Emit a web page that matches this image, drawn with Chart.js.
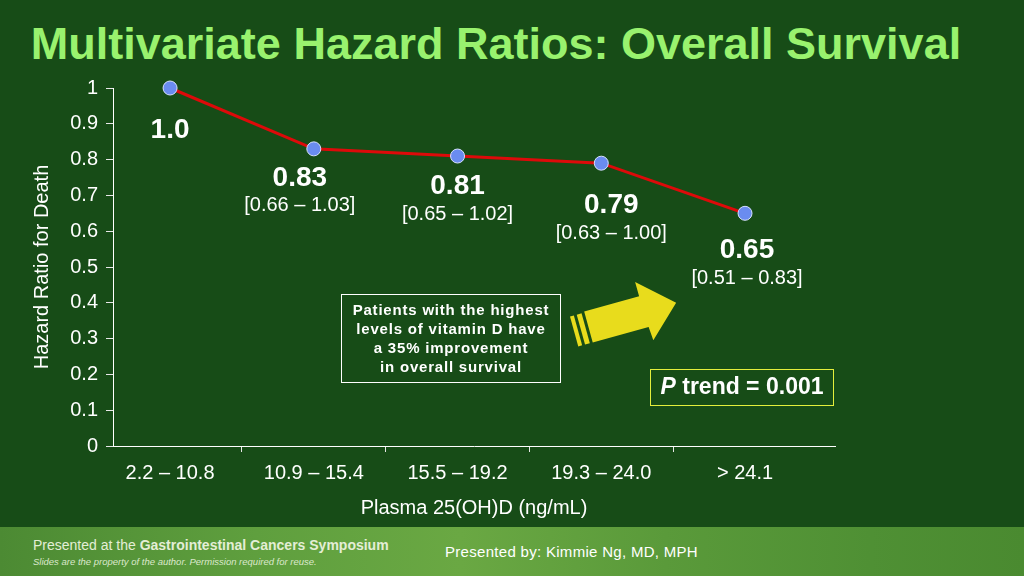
<!DOCTYPE html>
<html>
<head>
<meta charset="utf-8">
<script src="https://cdn.jsdelivr.net/npm/chart.js@4"></script>
<style>
  html, body { margin: 0; padding: 0; }
  body { width: 1024px; height: 576px; overflow: hidden; background: #174c17; position: relative; font-family: Arial, "Liberation Sans", sans-serif; }
  #title { position: absolute; left: 0; width: 992px; top: 18px; text-align: center; color: #99f26e; font-weight: bold; font-size: 45px; white-space: nowrap; }
  #wrap { position: absolute; left: 0; top: 0; width: 1024px; height: 576px; }
  #footer { position: absolute; left: 0; top: 527px; width: 1024px; height: 49px;
    background: linear-gradient(90deg, #4c8a33 0%, #5f9f3e 25%, #6aa843 45%, #5a9a3a 65%, #4f9034 85%, #4a8a30 100%); }
  #f1 { position: absolute; left: 33px; top: 10px; color: #e4eed6; font-size: 14px; }
  #f1 b { font-weight: bold; }
  #f2 { position: absolute; left: 33px; top: 29px; color: #dbe8cc; font-size: 9.5px; font-style: italic; }
  #f3 { position: absolute; left: 445px; top: 16px; color: #ffffff; font-size: 15px; letter-spacing: 0.3px; }
</style>
</head>
<body>
<div id="title">Multivariate Hazard Ratios: Overall Survival</div>
<div id="footer">
  <div id="f1">Presented at the <b>Gastrointestinal Cancers Symposium</b></div>
  <div id="f2">Slides are the property of the author. Permission required for reuse.</div>
  <div id="f3">Presented by: Kimmie Ng, MD, MPH</div>
</div>
<div id="wrap"><canvas id="chart"></canvas></div>
<script>
const categories = ['2.2 – 10.8', '10.9 – 15.4', '15.5 – 19.2', '19.3 – 24.0', '> 24.1'];
const hazardRatios = [1.0, 0.83, 0.81, 0.79, 0.65];
const valueLabels = ['1.0', '0.83', '0.81', '0.79', '0.65'];
const ciLabels = ['', '[0.66 – 1.03]', '[0.65 – 1.02]', '[0.63 – 1.00]', '[0.51 – 0.83]'];
const yTickLabels = ['0', '0.1', '0.2', '0.3', '0.4', '0.5', '0.6', '0.7', '0.8', '0.9', '1'];

const labelDx = [0, -14, 0, 10, 2];
const labelDy = [42, 29, 30, 42, 37];

const annotations = {
    id: 'annotations',
    afterDatasetsDraw(chart) {
        const ctx = chart.ctx;
        const meta = chart.getDatasetMeta(0);
        ctx.save();
        ctx.fillStyle = '#ffffff';
        ctx.textAlign = 'center';
        ctx.textBaseline = 'middle';
        meta.data.forEach((pt, i) => {
            const x = pt.x + labelDx[i];
            const y = pt.y + labelDy[i];
            ctx.font = 'bold 28px Arial';
            ctx.fillText(valueLabels[i], x, y);
            if (ciLabels[i]) {
                ctx.font = '20px Arial';
                ctx.fillText(ciLabels[i], x, y + 28);
            }
        });

        // text box
        ctx.strokeStyle = '#ffffff';
        ctx.lineWidth = 1;
        ctx.strokeRect(341.5, 294.5, 219, 88);
        ctx.font = 'bold 15px Arial';
        ctx.letterSpacing = '0.8px';
        const lines = ['Patients with the highest', 'levels of vitamin D have', 'a 35% improvement', 'in overall survival'];
        lines.forEach((t, i) => ctx.fillText(t, 451, 311 + i * 19));
        ctx.letterSpacing = '0px';

        // P trend box
        ctx.strokeStyle = '#e4ee3c';
        ctx.strokeRect(650.5, 369.5, 183, 36);
        ctx.textAlign = 'left';
        ctx.font = 'italic bold 23px Arial';
        const pw = ctx.measureText('P').width;
        ctx.font = 'bold 23px Arial';
        const rest = ' trend = 0.001';
        const total = pw + ctx.measureText(rest).width;
        const sx = 742 - total / 2;
        ctx.font = 'italic bold 23px Arial';
        ctx.fillText('P', sx, 388);
        ctx.font = 'bold 23px Arial';
        ctx.fillText(rest, sx + pw, 388);

        // arrow
        ctx.translate(574, 331);
        ctx.rotate(Math.atan2(-28, 101));
        ctx.fillStyle = '#e8dc1c';
        ctx.fillRect(0, -15, 4, 31);
        ctx.fillRect(7, -15, 5, 31);
        ctx.beginPath();
        ctx.moveTo(15, -16);
        ctx.lineTo(72, -16);
        ctx.lineTo(72, -31);
        ctx.lineTo(106, 0);
        ctx.lineTo(74, 30);
        ctx.lineTo(73, 16);
        ctx.lineTo(15, 16);
        ctx.closePath();
        ctx.fill();
        ctx.restore();
    }
};

new Chart(document.getElementById('chart'), {
    type: 'line',
    data: {
        datasets: [{
            data: hazardRatios.map((v, i) => ({ x: i, y: v })),
            borderColor: '#dd0a0a',
            borderWidth: 3,
            pointRadius: 7,
            pointHoverRadius: 7,
            pointBackgroundColor: '#6a8cf0',
            pointBorderColor: '#d8e0ff',
            pointBorderWidth: 1,
            tension: 0,
            clip: false
        }]
    },
    options: {
        responsive: true,
        maintainAspectRatio: false,
        animation: false,
        events: [],
        layout: { padding: { left: 20, top: 88, right: 189, bottom: 0 } },
        plugins: { legend: { display: false }, tooltip: { enabled: false } },
        scales: {
            x: {
                type: 'linear',
                min: -0.397,
                max: 4.626,
                afterBuildTicks: (scale) => {
                    scale.ticks = [0, 0.5, 1, 1.5, 2, 2.5, 3, 3.5, 4].map(v => ({ value: v }));
                },
                afterFit: (scale) => { scale.height = 130; },
                grid: {
                    display: true,
                    drawOnChartArea: false,
                    drawTicks: true,
                    tickLength: 6,
                    tickColor: (c) => (c.tick && c.tick.value % 1 !== 0) ? '#e8e8e8' : 'rgba(0,0,0,0)'
                },
                border: { display: true, color: '#ffffff', width: 1 },
                ticks: {
                    autoSkip: false,
                    maxRotation: 0,
                    padding: 9,
                    color: '#ffffff',
                    font: { family: 'Arial', size: 20 },
                    callback: (v) => Number.isInteger(v) ? categories[v] : ''
                },
                title: {
                    display: true,
                    text: 'Plasma 25(OH)D (ng/mL)',
                    color: '#ffffff',
                    font: { family: 'Arial', size: 20 },
                    padding: { top: 0, bottom: 56 }
                }
            },
            y: {
                min: 0,
                max: 1,
                afterFit: (scale) => { scale.width = 93; },
                grid: { display: true, drawOnChartArea: false, drawTicks: true, tickLength: 7, tickColor: '#e8e8e8' },
                border: { display: true, color: '#ffffff', width: 1 },
                ticks: {
                    stepSize: 0.1,
                    padding: 8,
                    color: '#ffffff',
                    font: { family: 'Arial', size: 20 },
                    callback: (v, i) => yTickLabels[i]
                },
                title: {
                    display: true,
                    text: 'Hazard Ratio for Death',
                    color: '#ffffff',
                    font: { family: 'Arial', size: 20 },
                    padding: { top: 10, bottom: 0 }
                }
            }
        }
    },
    plugins: [annotations]
});
</script>
</body>
</html>
